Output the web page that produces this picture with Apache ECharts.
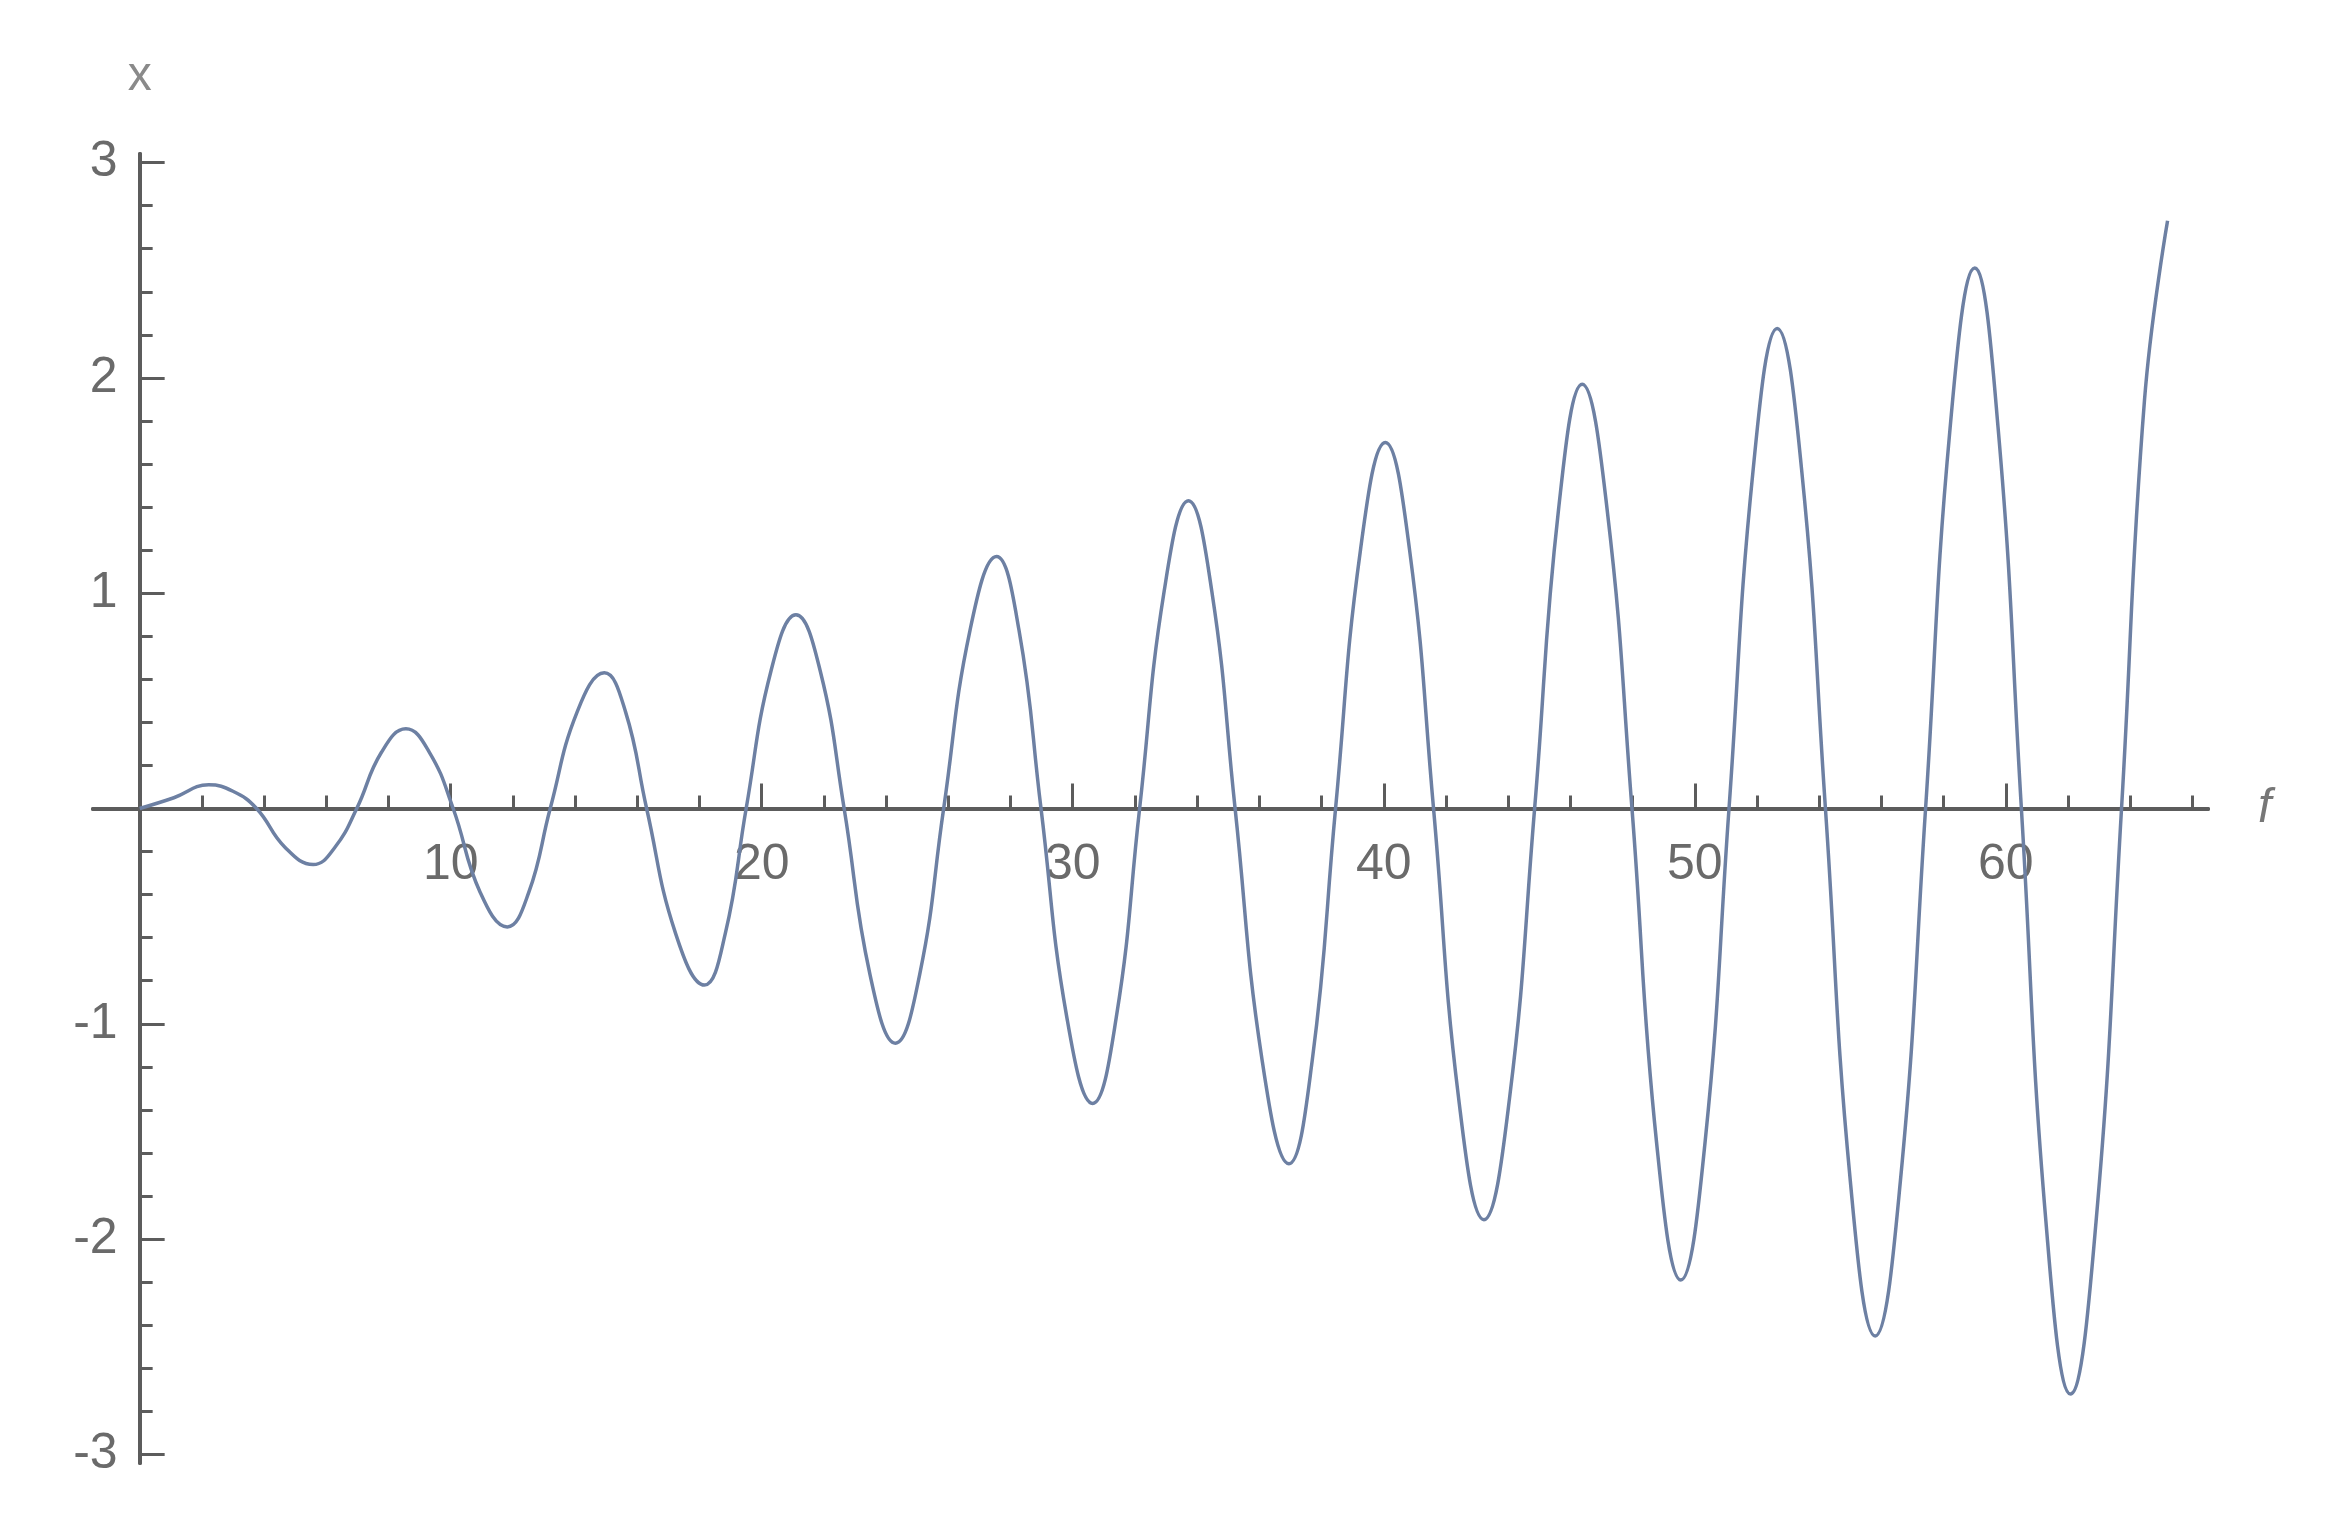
<!DOCTYPE html>
<html>
<head>
<meta charset="utf-8">
<script src="https://cdn.jsdelivr.net/npm/echarts@6/dist/echarts.min.js"></script>
<style>
html,body{margin:0;padding:0;background:#ffffff;}
#chart{width:2341px;height:1539px;}
</style>
</head>
<body>
<div id="chart"></div>
<script>
// Curve samples (t, x)
const tValues = [0, 1.1, 2.22, 3.0, 3.76, 4.67, 5.58, 6.28, 6.98, 7.77, 8.56, 9.32, 10.08, 10.95, 11.82, 12.51, 13.2, 14.07, 14.94, 15.62, 16.3, 17.23, 18.16, 18.83, 19.5, 20.3, 21.1, 21.88, 22.65, 23.48, 24.3, 25.08, 25.85, 26.7, 27.55, 28.27, 28.98, 29.81, 30.64, 31.4, 32.15, 32.94, 33.72, 34.47, 35.22, 36.09, 36.95, 37.7, 38.45, 39.25, 40.05, 40.83, 41.6, 42.41, 43.22, 44.04, 44.85, 45.62, 46.38, 47.18, 47.98, 48.77, 49.55, 50.33, 51.1, 51.88, 52.65, 53.43, 54.2, 55.0, 55.8, 56.61, 57.42, 58.21, 59.0, 59.75, 60.5, 61.29, 62.08, 62.9, 63.72, 64.46, 65.2];
const xValues = [0, 0.05, 0.11, 0.08, 0, -0.18, -0.26, -0.18, 0, 0.26, 0.37, 0.26, 0, -0.39, -0.55, -0.39, 0, 0.45, 0.63, 0.45, 0, -0.58, -0.82, -0.58, 0, 0.64, 0.90, 0.64, 0, -0.77, -1.09, -0.77, 0, 0.83, 1.17, 0.83, 0, -0.97, -1.37, -0.97, 0, 1.01, 1.43, 1.01, 0, -1.17, -1.65, -1.17, 0, 1.20, 1.70, 1.20, 0, -1.35, -1.91, -1.35, 0, 1.39, 1.97, 1.39, 0, -1.55, -2.19, -1.55, 0, 1.58, 2.23, 1.58, 0, -1.73, -2.45, -1.73, 0, 1.77, 2.51, 1.77, 0, -1.92, -2.72, -1.92, 0, 1.90, 2.73];

// Tick values
const xLabelValues = [10, 20, 30, 40, 50, 60];
const xMinorTicks = [2, 4, 6, 8, 12, 14, 16, 18, 22, 24, 26, 28, 32, 34, 36, 38, 42, 44, 46, 48, 52, 54, 56, 58, 62, 64, 66];
const yLabelValues = [-3, -2, -1, 1, 2, 3];
const yMinorTicks = [-2.8, -2.6, -2.4, -2.2, -1.8, -1.6, -1.4, -1.2, -0.8, -0.6, -0.4, -0.2, 0.2, 0.4, 0.6, 0.8, 1.2, 1.4, 1.6, 1.8, 2.2, 2.4, 2.6, 2.8];

const xRange = [-1.5, 66.5];
const yRange = [-3.04, 3.04];

const axisColor = '#5c5c5c';
const labelColor = '#6a6a6a';
const fontFamily = '"Liberation Sans", Arial, sans-serif';

// grid box
const G = {left: 93, right: 133, top: 154, bottom: 76};
const W = 2341, H = 1539;
const gridW = W - G.left - G.right, gridH = H - G.top - G.bottom;
// place axes through the origin (value 0 of the other axis)
const xAxisOffset = -(gridH * (0 - yRange[0]) / (yRange[1] - yRange[0]));
const yAxisOffset = -(gridW * (0 - xRange[0]) / (xRange[1] - xRange[0]));

const chart = echarts.init(document.getElementById('chart'), null, {renderer: 'canvas'});

const baseX = {
  type: 'value', position: 'bottom', min: xRange[0], max: xRange[1], offset: xAxisOffset,
  splitLine: {show: false},
  axisLine: {show: true, onZero: false, lineStyle: {color: axisColor, width: 4}}
};
const baseY = {
  type: 'value', position: 'left', min: yRange[0], max: yRange[1], offset: yAxisOffset,
  splitLine: {show: false},
  axisLine: {show: true, onZero: false, lineStyle: {color: axisColor, width: 4}}
};

chart.setOption({
  animation: false,
  backgroundColor: '#ffffff',
  grid: {left: G.left, right: G.right, top: G.top, bottom: G.bottom, containLabel: false},
  xAxis: [
    Object.assign({}, baseX, {
      name: 'f', nameLocation: 'end', nameGap: 50,
      nameTextStyle: {color: '#777777', fontSize: 48, fontStyle: 'italic', fontFamily: fontFamily, verticalAlign: 'middle', align: 'left'},
      axisTick: {show: true, inside: true, length: 13, customValues: xMinorTicks, lineStyle: {color: axisColor, width: 3}},
      axisLabel: {show: true, customValues: xLabelValues, margin: 32, color: labelColor, fontSize: 50, fontFamily: fontFamily}
    }),
    Object.assign({}, baseX, {
      axisTick: {show: true, inside: true, length: 25, customValues: xLabelValues, lineStyle: {color: axisColor, width: 3}},
      axisLabel: {show: false}
    })
  ],
  yAxis: [
    Object.assign({}, baseY, {
      name: 'x', nameLocation: 'end', nameGap: 53,
      nameTextStyle: {color: '#8a8a8a', fontSize: 48, fontFamily: fontFamily, align: 'center'},
      axisTick: {show: true, inside: true, length: 13, customValues: yMinorTicks, lineStyle: {color: axisColor, width: 3}},
      axisLabel: {show: true, customValues: yLabelValues, margin: 22, color: labelColor, fontSize: 50, fontFamily: fontFamily}
    }),
    Object.assign({}, baseY, {
      axisTick: {show: true, inside: true, length: 25, customValues: yLabelValues, lineStyle: {color: axisColor, width: 3}},
      axisLabel: {show: false}
    })
  ],
  series: [{
    type: 'line',
    xAxisIndex: 0, yAxisIndex: 0,
    data: tValues.map((t, i) => [t, xValues[i]]),
    showSymbol: false,
    smooth: 0.45,
    lineStyle: {color: '#6d80a3', width: 3.5},
    silent: true
  }]
});
</script>
</body>
</html>
